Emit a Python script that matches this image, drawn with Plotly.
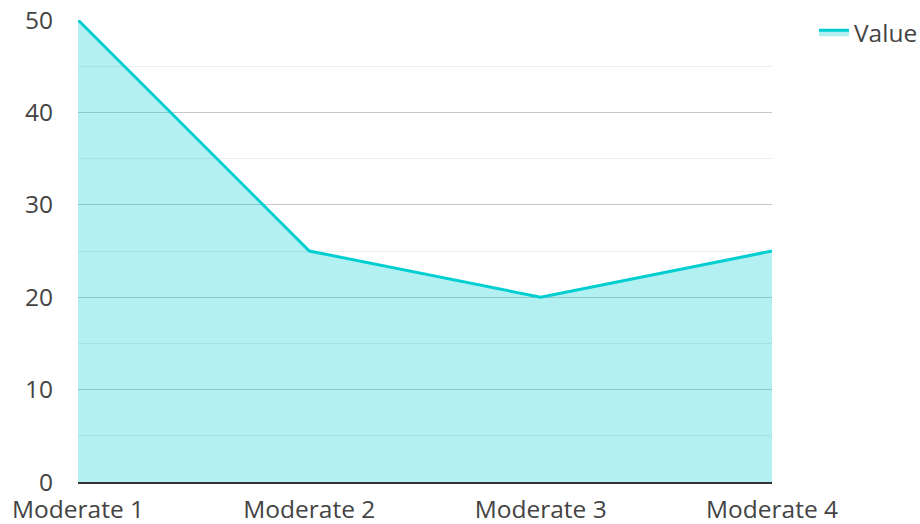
import plotly.graph_objects as go

categories = ["Moderate 1", "Moderate 2", "Moderate 3", "Moderate 4"]
values = [50, 25, 20, 25]
series_name = "Value"

fig = go.Figure()
fig.add_trace(go.Scatter(
    x=categories, y=values, name=series_name, mode="lines",
    line=dict(color="#00CED1", width=3),
    fill="tozeroy", fillcolor="rgba(0,206,209,0.3)",
))

font = dict(family="Open Sans", size=24.5, color="#444444")
fig.update_layout(
    width=920, height=524,
    margin=dict(l=78, r=148, t=20, b=42, autoexpand=False),
    plot_bgcolor="white", paper_bgcolor="white",
    font=font,
    showlegend=True,
    legend=dict(x=1.0605, y=1.022, xanchor="left", yanchor="top", font=font,
                bgcolor="rgba(0,0,0,0)"),
    xaxis=dict(type="category", range=[0, 3], showgrid=False, automargin=False,
               showline=True, linecolor="#333333", linewidth=2,
               ticks="", ticklabelstandoff=5, tickfont=font),
    yaxis=dict(range=[0, 50], dtick=10, showgrid=True, gridcolor="#c8c8c8",
               gridwidth=1, zeroline=False, showline=False, ticks="", automargin=False,
               ticklabelstandoff=24, tickfont=font,
               minor=dict(dtick=5, showgrid=True, gridcolor="#ececec", gridwidth=1)),
)

fig.write_html("out.html", config={"displayModeBar": False},
               post_script="document.body.style.margin='0';")
